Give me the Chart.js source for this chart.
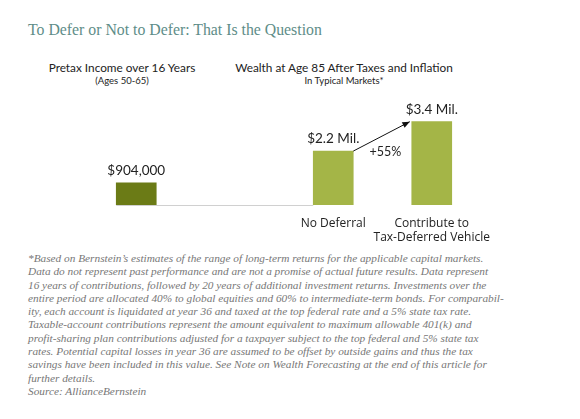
<!DOCTYPE html>
<html>
<head>
<meta charset="utf-8">
<script src="https://cdn.jsdelivr.net/npm/chart.js@4"></script>
<style>
    html, body { margin: 0; padding: 0; background: #fff; }
    #page { position: relative; width: 580px; height: 419px; overflow: hidden; }
    .title { position: absolute; left: 28px; top: 21px; font: 15.8px "Liberation Serif", serif; color: #5e8d88; white-space: nowrap; }
    .sub { position: absolute; text-align: center; font-family: Lato, sans-serif; color: #222; white-space: nowrap; }
    .sub .main { font-size: 11.8px; line-height: 15px; }
    .sub .small { font-size: 9.5px; line-height: 12px; }
    #chartBox { position: absolute; left: 0; top: 90px; width: 580px; height: 160px; }
    .notes { position: absolute; left: 28px; top: 252px; font: italic 11.3px "Liberation Serif", serif; color: #777; line-height: 13.3px; white-space: nowrap; }
</style>
</head>
<body>
<div id="page">
    <div class="title">To Defer or Not to Defer: That Is the Question</div>
    <div class="sub" style="left: 22px; width: 200px; top: 60px;">
        <div class="main">Pretax Income over 16 Years</div>
        <div class="small">(Ages 50-65)</div>
    </div>
    <div class="sub" style="left: 224px; width: 240px; top: 60px;">
        <div class="main">Wealth at Age 85 After Taxes and Inflation</div>
        <div class="small">In Typical Markets*</div>
    </div>
    <div id="chartBox"><canvas id="deferChart"></canvas></div>
    <div class="notes" id="notes"></div>
</div>
<script>
    // Valeurs du graphique (millions de dollars)
    var categories = ['', '', 'No Deferral', ['Contribute to', 'Tax-Deferred Vehicle']];
    var values = [0.904, null, 2.2, 3.4];
    var valueLabels = ['$904,000', '', '$2.2 Mil.', '$3.4 Mil.'];
    var barColors = ['#6b7b16', '#ffffff', '#a4b547', '#a4b547'];
    var gainLabel = '+55%';
    var yTicks = [0, 4];

    var noteLines = [
        "*Based on Bernstein\u2019s estimates of the range of long-term returns for the applicable capital markets.",
        "Data do not represent past performance and are not a promise of actual future results. Data represent",
        "16 years of contributions, followed by 20 years of additional investment returns. Investments over the",
        "entire period are allocated 40% to global equities and 60% to intermediate-term bonds. For comparabil-",
        "ity, each account is liquidated at year 36 and taxed at the top federal rate and a 5% state tax rate.",
        "Taxable-account contributions represent the amount equivalent to maximum allowable 401(k) and",
        "profit-sharing plan contributions adjusted for a taxpayer subject to the top federal and 5% state tax",
        "rates. Potential capital losses in year 36 are assumed to be offset by outside gains and thus the tax",
        "savings have been included in this value. See Note on Wealth Forecasting at the end of this article for",
        "further details.",
        "Source: AllianceBernstein"
    ];

    var notesEl = document.getElementById('notes');
    noteLines.forEach(function (line) {
        var div = document.createElement('div');
        div.textContent = line;
        notesEl.appendChild(div);
    });

    // Ligne de base, étiquettes et flèche
    var annotations = {
        id: 'annotations',
        beforeDatasetsDraw: function (chart) {
            var ctx = chart.ctx;
            var bars = chart.getDatasetMeta(0).data;
            var y0 = chart.scales.y.getPixelForValue(0);
            ctx.save();
            ctx.strokeStyle = '#d0d0d0';
            ctx.lineWidth = 1;
            ctx.beginPath();
            ctx.moveTo(bars[0].x - bars[0].width / 2, Math.round(y0) + 0.5);
            ctx.lineTo(bars[2].x - bars[2].width / 2, Math.round(y0) + 0.5);
            ctx.stroke();
            ctx.restore();
        },
        afterDatasetsDraw: function (chart) {
            var ctx = chart.ctx;
            var bars = chart.getDatasetMeta(0).data;
            ctx.save();
            ctx.fillStyle = '#222';
            ctx.font = '13.5px Lato, sans-serif';
            ctx.textAlign = 'center';
            ctx.textBaseline = 'alphabetic';
            bars.forEach(function (bar, i) {
                if (values[i] == null) return;
                ctx.fillText(valueLabels[i], bar.x, bar.y - 8);
            });

            // flèche de la barre 2 à la barre 3
            var a = bars[2], b = bars[3];
            var x1 = a.x + a.width / 2, y1 = a.y;
            var x2 = b.x - b.width / 2 - 2, y2 = b.y;
            ctx.strokeStyle = '#111';
            ctx.lineWidth = 1;
            ctx.beginPath();
            ctx.moveTo(x1, y1);
            ctx.lineTo(x2, y2);
            ctx.stroke();
            var ang = Math.atan2(y2 - y1, x2 - x1);
            ctx.beginPath();
            ctx.moveTo(x2, y2);
            ctx.lineTo(x2 - 8 * Math.cos(ang - 0.4), y2 - 8 * Math.sin(ang - 0.4));
            ctx.lineTo(x2 - 8 * Math.cos(ang + 0.4), y2 - 8 * Math.sin(ang + 0.4));
            ctx.closePath();
            ctx.fillStyle = '#111';
            ctx.fill();

            ctx.fillStyle = '#222';
            ctx.font = '12.5px Lato, sans-serif';
            ctx.textBaseline = 'middle';
            ctx.fillText(gainLabel, (x1 + x2) / 2 + 4, y1 + 1);
            ctx.restore();
        }
    };

    new Chart(document.getElementById('deferChart').getContext('2d'), {
        type: 'bar',
        data: {
            labels: categories,
            datasets: [{
                data: values,
                backgroundColor: barColors,
                barThickness: 40,
                borderWidth: 0
            }]
        },
        options: {
            responsive: true,
            maintainAspectRatio: false,
            animation: false,
            layout: {
                padding: { left: 87, right: 99, top: 17, bottom: 0 }
            },
            plugins: {
                legend: { display: false },
                title: { display: false },
                tooltip: { enabled: false }
            },
            scales: {
                x: {
                    grid: { display: false },
                    border: { display: false },
                    afterFit: function (scale) { scale.height = 45; },
                    ticks: {
                        color: '#222',
                        padding: 3,
                        autoSkip: false,
                        maxRotation: 0,
                        font: { family: 'Open Sans', size: 12 }
                    }
                },
                y: {
                    display: false,
                    min: yTicks[0],
                    max: yTicks[1]
                }
            }
        },
        plugins: [annotations]
    });
</script>
</body>
</html>
